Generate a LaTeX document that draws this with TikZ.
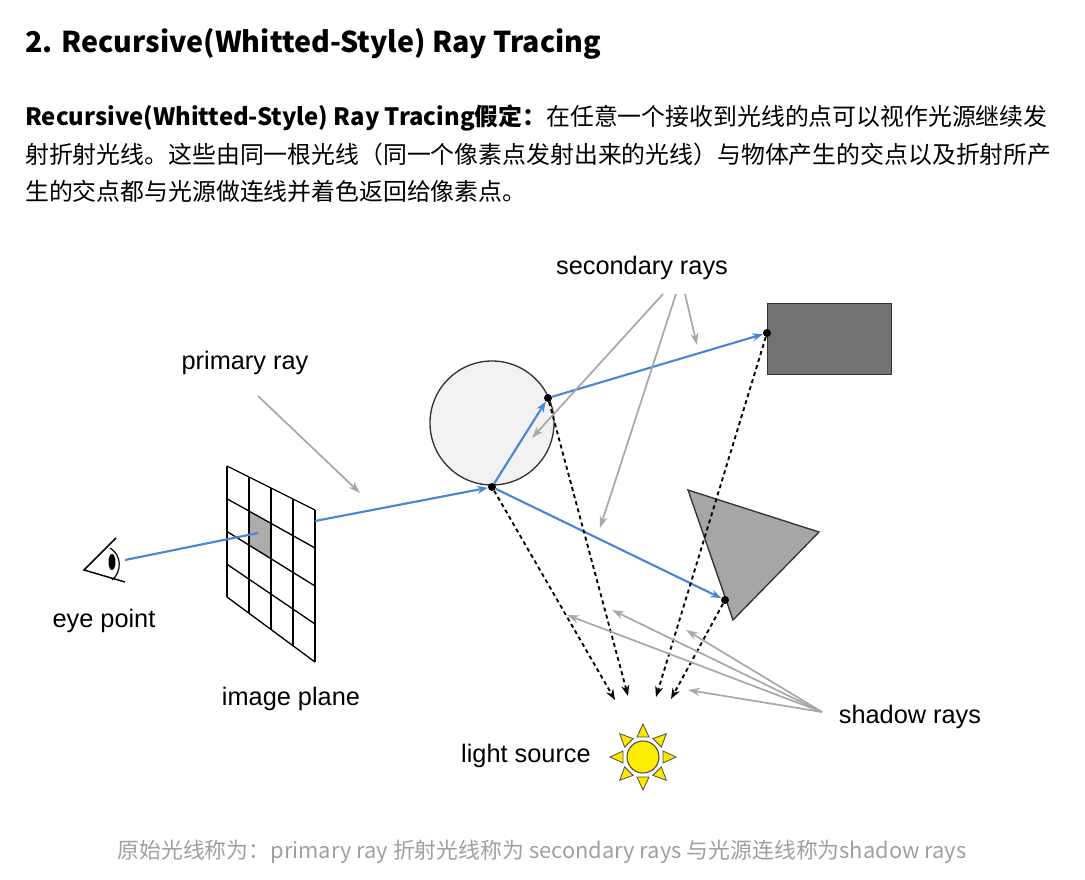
\documentclass[tikz,border=0pt]{standalone}
\usepackage{fontspec}
\setmainfont{Liberation Sans}
\newfontfamily\cjk{Noto Sans CJK SC}
\usetikzlibrary{arrows.meta,calc}
\definecolor{rayblue}{HTML}{4A86D8}
\definecolor{arrgray}{HTML}{A8A8A8}
\begin{document}
\begin{tikzpicture}[x=0.75pt,y=-0.75pt,
  lab/.style={font=\fontsize{19}{21}\selectfont},
  blue ray/.style={draw=rayblue,line width=1.6pt,-{Stealth[length=8pt,width=6pt]}},
  shadow/.style={draw=black,line width=1.4pt,dash pattern=on 3pt off 2.5pt,-{Stealth[length=8pt,width=6pt]}},
  pointer/.style={draw=arrgray,line width=1.3pt,-{Stealth[length=9pt,width=6pt]}},
  dot/.style={circle,fill=black,inner sep=0pt,minimum size=6pt},
  body/.style={anchor=base west,inner sep=0pt,font=\cjk\fontsize{17.9}{20}\selectfont}]
\useasboundingbox (0,0) rectangle (1085,880);
% text
\node[anchor=base west,inner sep=0pt,font=\cjk\bfseries\fontsize{21.5}{24}\selectfont] (title) at (25,53) {2. Recursive(Whitted-Style) Ray Tracing};
\node[body] (l1) at (25,126) {\textbf{Recursive(Whitted-Style) Ray Tracing假定：}在任意一个接收到光线的点可以视作光源继续发};
\node[body] (l2) at (25,164) {射折射光线。这些由同一根光线（同一个像素点发射出来的光线）与物体产生的交点以及折射所产};
\node[body] (l3) at (25,201) {生的交点都与光源做连线并着色返回给像素点。};
\node[font=\cjk\fontsize{16.4}{18}\selectfont,text=gray!75] (cap) at (542,852) {原始光线称为：primary ray 折射光线称为 secondary rays 与光源连线称为shadow rays};
% image plane grid
\fill[gray!65] (249,511) -- (271,523.4) -- (271,558.75) -- (249,545.1) -- cycle;
\foreach \i in {0,...,4}{
  \draw[line width=1pt] ({227+22*\i},{466+11*\i}) -- ({227+22*\i},{597+16.25*\i});
  \draw[line width=1pt] (227,{466+32.75*\i}) -- (315,{510+38*\i});
}
% eye
\coordinate (eyetip) at (84,570);
\draw[line width=1.1pt] (116,538) -- (eyetip) -- (125,582);
\fill (112,562) ellipse (3.5 and 8);
\draw[line width=0.9pt] (110,548) .. controls (122,555) and (122,572) .. (112,580);
\coordinate (eyeout) at (125,560);
\coordinate (pix) at (258,533);
\draw[draw=rayblue,line width=1.6pt] (eyeout) -- (pix);
% sphere
\node[circle,draw=black!80,fill=gray!10,line width=1pt,minimum size=93pt,inner sep=0pt] (sph) at (492,423) {};
\coordinate (gridout) at (315,521);
\node[dot] (p1) at (492,487) {};
\node[dot] (p2) at (548,398) {};
% rectangle
\node[draw=black!80,fill=black!55,minimum width=93pt,minimum height=53pt,inner sep=0pt,anchor=north west,line width=1pt] (rect) at (767,303) {};
\node[dot] (p3) at (767,333) {};
% triangle
\filldraw[fill=black!35,draw=black!80,line width=1pt] (688,490) -- (819,532) -- (733,620) -- cycle;
\node[dot] (p4) at (725,600) {};
% blue rays
\draw[blue ray] (gridout) -- (p1);
\draw[blue ray] (p1) -- (p2);
\draw[blue ray] (p2) -- (p3);
\draw[blue ray] (p1) -- (p4);
% sun
\coordinate (sun) at (643,757);
\foreach \a in {0,45,...,315}{
  \filldraw[fill=yellow!90!orange,draw=black!70,line width=0.6pt,rotate around={\a:(sun)}] ($(sun)+(-6,-20)$) -- ($(sun)+(6,-20)$) -- ($(sun)+(0,-33)$) -- cycle;
}
\node[circle,fill=yellow!95!orange,draw=black!70,line width=0.8pt,minimum size=24pt,inner sep=0pt] (sunc) at (sun) {};
% shadow rays
\coordinate (s1) at (615,700);
\coordinate (s2) at (628,696);
\coordinate (s3) at (656,697);
\coordinate (s4) at (671,699);
\draw[shadow] (p1) -- (s1);
\draw[shadow] (p2) -- (s2);
\draw[shadow] (p3) -- (s3);
\draw[shadow] (p4) -- (s4);
% labels
\node[lab] (sec) at (642,268) {secondary rays};
\node[lab] (prim) at (245,363) {primary ray};
\node[lab] (eye) at (104,621) {eye point};
\node[lab] (ip) at (291,699) {image plane};
\node[lab] (ls) at (526,756) {light source};
\node[lab] (shl) at (910,717) {shadow rays};
% pointers
\coordinate (sa) at (663,294);
\coordinate (sb) at (676,294);
\coordinate (sc) at (685,294);
\coordinate (ta) at (532,438);
\coordinate (tb) at (600,528);
\coordinate (tc) at (697,345);
\draw[pointer] (sa) -- (ta);
\draw[pointer] (sb) -- (tb);
\draw[pointer] (sc) -- (tc);
\coordinate (pa) at (258,396);
\coordinate (pb) at (360,493);
\draw[pointer] (pa) -- (pb);
\coordinate (sh) at (822,712);
\coordinate (h1) at (567,615);
\coordinate (h2) at (612,610);
\coordinate (h3) at (686,630);
\coordinate (h4) at (688,690);
\foreach \h in {h1,h2,h3,h4} \draw[pointer] (sh) -- (\h);
\end{tikzpicture}
\end{document}
